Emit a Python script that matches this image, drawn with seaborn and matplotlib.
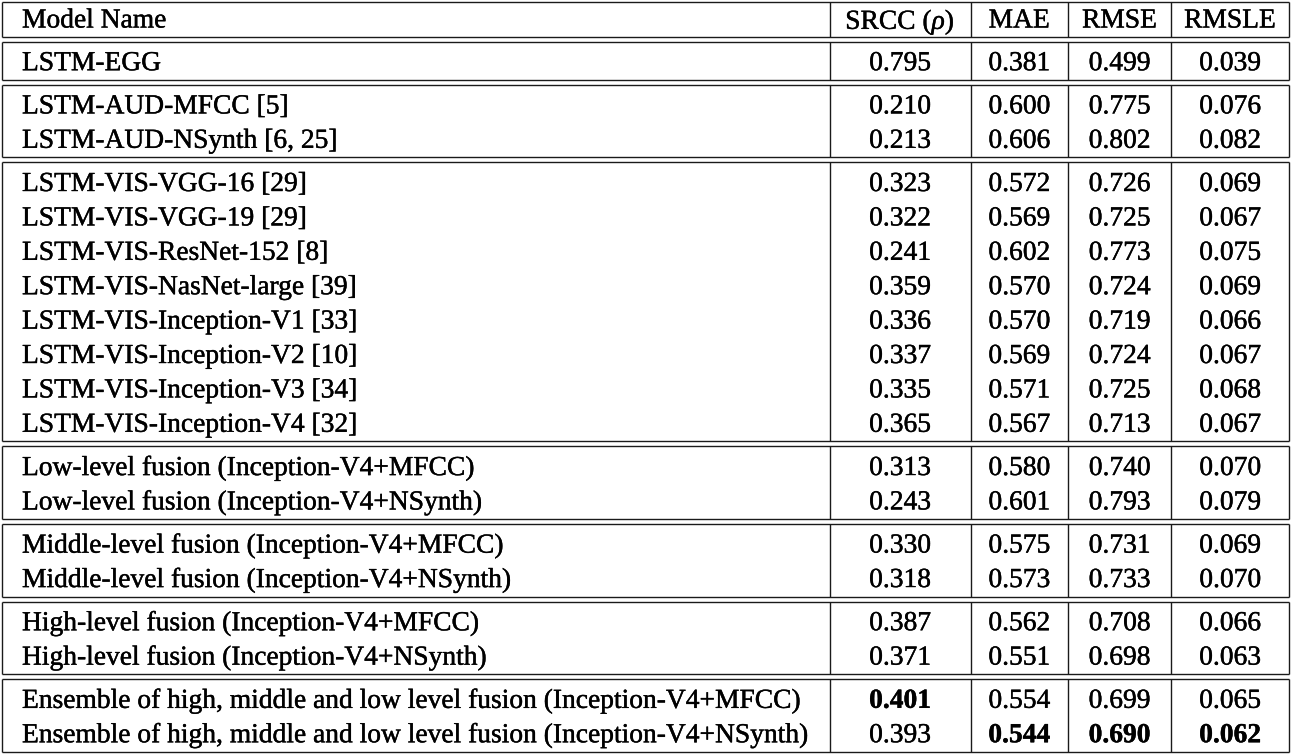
import matplotlib
matplotlib.use("Agg")
import matplotlib.pyplot as plt
import matplotlib.patheffects as pe
import seaborn as sns

# ---------------- data ----------------
headers = ["Model Name", "SRCC ($\\rho$)", "MAE", "RMSE", "RMSLE"]
model_names = [
    "LSTM-EGG",
    "LSTM-AUD-MFCC [5]",
    "LSTM-AUD-NSynth [6, 25]",
    "LSTM-VIS-VGG-16 [29]",
    "LSTM-VIS-VGG-19 [29]",
    "LSTM-VIS-ResNet-152 [8]",
    "LSTM-VIS-NasNet-large [39]",
    "LSTM-VIS-Inception-V1 [33]",
    "LSTM-VIS-Inception-V2 [10]",
    "LSTM-VIS-Inception-V3 [34]",
    "LSTM-VIS-Inception-V4 [32]",
    "Low-level fusion (Inception-V4+MFCC)",
    "Low-level fusion (Inception-V4+NSynth)",
    "Middle-level fusion (Inception-V4+MFCC)",
    "Middle-level fusion (Inception-V4+NSynth)",
    "High-level fusion (Inception-V4+MFCC)",
    "High-level fusion (Inception-V4+NSynth)",
    "Ensemble of high, middle and low level fusion (Inception-V4+MFCC)",
    "Ensemble of high, middle and low level fusion (Inception-V4+NSynth)",
]
group_sizes = [1, 2, 8, 2, 2, 2, 2]
srcc = [0.795, 0.210, 0.213, 0.323, 0.322, 0.241, 0.359, 0.336, 0.337, 0.335,
        0.365, 0.313, 0.243, 0.330, 0.318, 0.387, 0.371, 0.401, 0.393]
mae = [0.381, 0.600, 0.606, 0.572, 0.569, 0.602, 0.570, 0.570, 0.569, 0.571,
       0.567, 0.580, 0.601, 0.575, 0.573, 0.562, 0.551, 0.554, 0.544]
rmse = [0.499, 0.775, 0.802, 0.726, 0.725, 0.773, 0.724, 0.719, 0.724, 0.725,
        0.713, 0.740, 0.793, 0.731, 0.733, 0.708, 0.698, 0.699, 0.690]
rmsle = [0.039, 0.076, 0.082, 0.069, 0.067, 0.075, 0.069, 0.066, 0.067, 0.068,
         0.067, 0.070, 0.079, 0.069, 0.070, 0.066, 0.063, 0.065, 0.062]
# (row index, metric column index) of the values printed in bold
bold_cells = [(17, 0), (18, 1), (18, 2), (18, 3)]

# ---------------- style ----------------
sns.set_theme(style="white")
plt.rcParams["font.family"] = ["Liberation Serif", "DejaVu Serif"]
plt.rcParams["mathtext.fontset"] = "custom"
plt.rcParams["mathtext.rm"] = "Liberation Serif"
plt.rcParams["mathtext.it"] = "Liberation Serif:italic"

W, H = 1294, 756
fig = plt.figure(figsize=(W / 100, H / 100), dpi=100)
fig.patch.set_facecolor("white")
ax = fig.add_axes([0, 0, 1, 1])
ax.set_xlim(0, W)
ax.set_ylim(H, 0)
ax.axis("off")

# layout (pixels)
col_edges = [2, 829.5, 970.5, 1068, 1171, 1289]
text_x0 = 22
top = 1.5
header_h = 35.0
gap = 5.2
row_h = 34.4
pad = 3.6
lc = "#1a1a1a"
lw = 1.0
fx = [pe.withStroke(linewidth=0.3, foreground="black")]

# fit font size so the longest name spans the measured width
target_width = 788
fs = 18.0
renderer = fig.canvas.get_renderer()
longest = max(model_names, key=len)
t = ax.text(0, 0, longest, fontsize=fs)
wpx = t.get_window_extent(renderer).width
t.remove()
fs = fs * target_width / wpx


def put(x, y, s, ha="center", bold=False):
    ax.text(x, y, s, fontsize=fs, ha=ha, va="center_baseline", color="black",
            fontweight="bold" if bold else "normal", path_effects=fx)


def draw_box(y0, y1):
    ax.hlines([y0, y1], col_edges[0], col_edges[-1], colors=lc, lw=lw)
    ax.vlines(col_edges, y0, y1, colors=lc, lw=lw)


# header
y0, y1 = top, top + header_h
draw_box(y0, y1)
yc = (y0 + y1) / 2 - 1
put(text_x0, yc, headers[0], ha="left")
for j, h in enumerate(headers[1:]):
    xc = (col_edges[j + 1] + col_edges[j + 2]) / 2
    put(xc, yc, h)

metrics = [srcc, mae, rmse, rmsle]
y = y1 + gap
r = 0
for n in group_sizes:
    g0 = y
    g1 = y + n * row_h + pad
    draw_box(g0, g1)
    for i in range(n):
        yc = g0 + pad / 2 + row_h * (i + 0.5)
        put(text_x0, yc, model_names[r], ha="left")
        for j, vals in enumerate(metrics):
            xc = (col_edges[j + 1] + col_edges[j + 2]) / 2
            put(xc, yc, f"{vals[r]:.3f}", bold=(r, j) in bold_cells)
        r += 1
    y = g1 + gap

fig.savefig("out.png", dpi=100, facecolor="white")
